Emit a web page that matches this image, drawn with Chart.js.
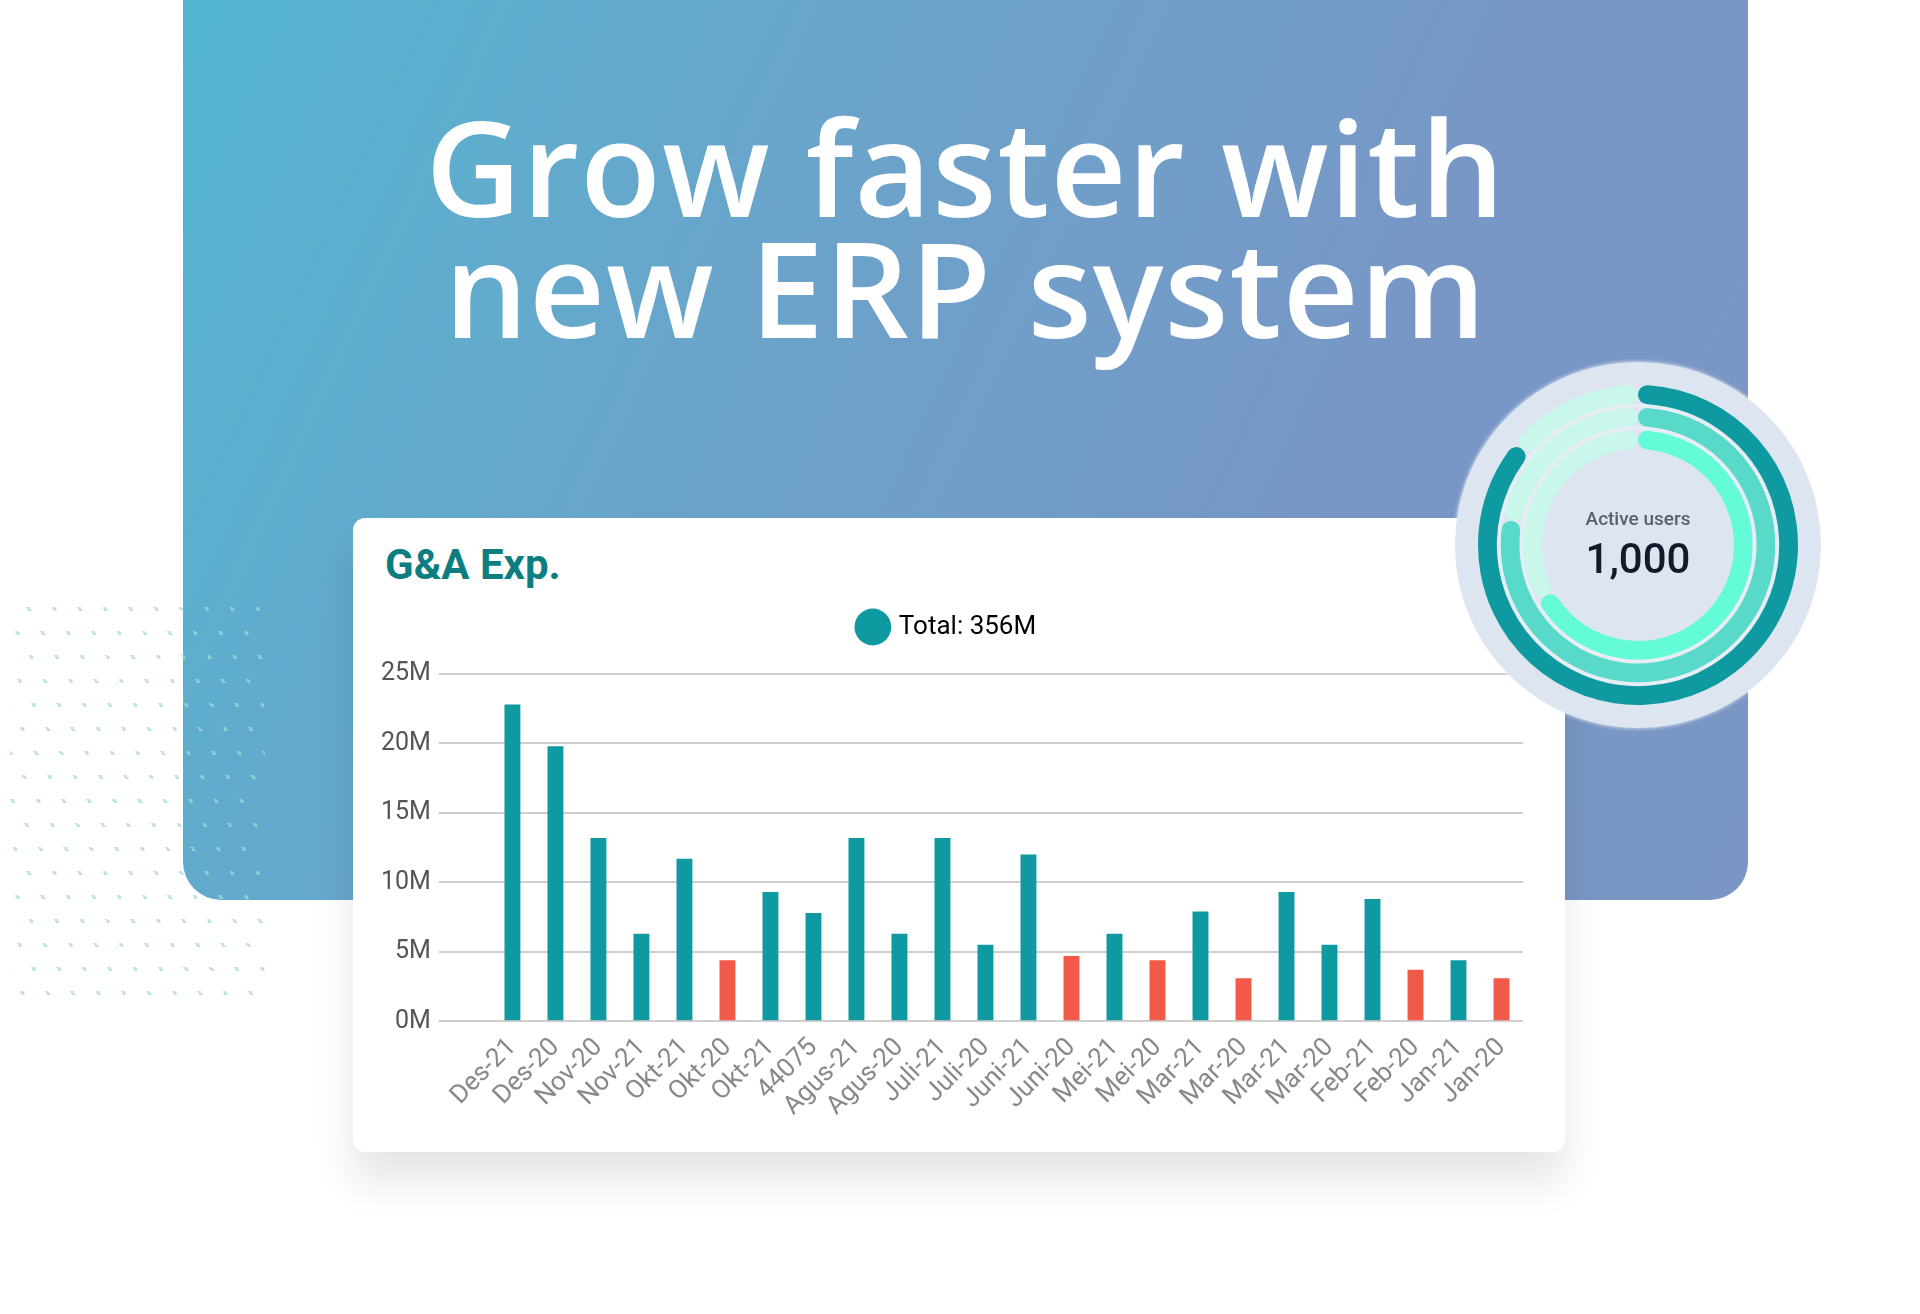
<!DOCTYPE html>
<html lang="en">
<head>
<meta charset="UTF-8">
<title>Grow faster with new ERP system</title>
<script src="https://cdn.jsdelivr.net/npm/chart.js"></script>
<style>
  body { margin: 0; width: 1920px; height: 1314px; background: #fff; position: relative; overflow: hidden; font-family: Roboto, sans-serif; }
  .panel { position: absolute; left: 183px; top: 0; width: 1565px; height: 900px; border-radius: 0 0 38px 38px;
           background: linear-gradient(115deg, #53b6d0 0%, #6aa4cb 35%, #7897c6 70%, #7b96c4 100%); }
  .headline { position: absolute; left: 183px; width: 1565px; top: 106px; text-align: center; color: #fff;
              font-family: "Open Sans", sans-serif; font-weight: 600; font-size: 132px; line-height: 121px; letter-spacing: 1px; }
  .dots { position: absolute; left: 10px; top: 600px; width: 255px; height: 395px; opacity: .7;
          background-image: repeating-linear-gradient(60deg, transparent 0 10px, #a6dbd3 10px 13px, transparent 13px 22px);
          -webkit-mask-image: repeating-linear-gradient(0deg, #000 0 4px, transparent 4px 24px); }
  .card { position: absolute; left: 353px; top: 518px; width: 1212px; height: 634px; background: #fff; border-radius: 12px;
          box-shadow: 0 30px 40px rgba(0,0,0,0.10); }
  .card h2 { position: absolute; left: 32px; top: 22px; margin: 0; font-family: Roboto, sans-serif; font-weight: 700; font-size: 42px; color: #0c7e80; }
  .chartbox { position: absolute; left: 20px; top: 72px; width: 1180px; height: 541px; }
  .widget { position: absolute; left: 1455px; top: 362px; width: 366px; height: 366px; border-radius: 50%; background: #dde5f0;
            box-shadow: 0 0 4px rgba(255,255,255,.9); }
  .ringbox { position: absolute; left: 1478px; top: 385px; width: 320px; height: 320px; }
  .center { position: absolute; left: 1538px; top: 445px; width: 200px; height: 200px; text-align: center; }
  .center .l { margin-top: 62px; font-size: 19px; color: #5a5f6a; font-weight: 500; }
  .center .v { font-size: 42px; color: #141a2b; font-weight: 500; margin-top: 4px; }
</style>
</head>
<body>
<div class="panel"></div>
<div class="dots"></div>
<div class="headline">Grow faster with<br>new ERP system</div>
<div class="card">
  <h2>G&amp;A Exp.</h2>
  <div class="chartbox"><canvas id="barChart"></canvas></div>
</div>
<div class="widget"></div>
<div class="ringbox"><canvas id="ringChart"></canvas></div>
<div class="center"><div class="l">Active users</div><div class="v">1,000</div></div>
<script>
  const months = ['Des-21','Des-20','Nov-20','Nov-21','Okt-21','Okt-20','Okt-21','44075','Agus-21','Agus-20','Juli-21','Juli-20',
                  'Juni-21','Juni-20','Mei-21','Mei-20','Mar-21','Mar-20','Mar-21','Mar-20','Feb-21','Feb-20','Jan-21','Jan-20'];
  const expenses = [22.8, 19.8, 13.2, 6.3, 11.7, 4.4, 9.3, 7.8, 13.2, 6.3, 13.2, 5.5,
                    12.0, 4.7, 6.3, 4.4, 7.9, 3.1, 9.3, 5.5, 8.8, 3.7, 4.4, 3.1];
  const flagged = [5, 13, 15, 17, 21, 23];
  const totalLabel = 'Total: 356M';
  const yTicks = [0, 5, 10, 15, 20, 25];

  // active users rings: [filled %, rest]
  const outerRing = [86, 14];
  const middleRing = [78, 22];
  const innerRing = [67, 33];

  const teal = '#0e9aa0', red = '#f15a48';

  // more room under the legend
  const legendGap = {
    id: 'legendGap',
    beforeInit(chart) {
      const fit = chart.legend.fit;
      chart.legend.fit = function () { fit.bind(chart.legend)(); this.height += 24; };
    }
  };

  new Chart(document.getElementById('barChart'), {
    type: 'bar',
    data: {
      labels: months,
      datasets: [{
        label: totalLabel,
        data: expenses.map(v => v * 1e6),
        backgroundColor: expenses.map((v, i) => flagged.includes(i) ? red : teal),
        barPercentage: 0.37,
        categoryPercentage: 1
      }]
    },
    options: {
      responsive: true, maintainAspectRatio: false, animation: false,
      layout: { padding: { left: 0, right: 30, bottom: 6 } },
      plugins: {
        tooltip: { enabled: false },
        legend: {
          labels: {
            usePointStyle: true, pointStyle: 'circle', boxWidth: 32, boxHeight: 32, padding: 24,
            color: '#555', font: { family: 'Roboto', size: 26 },
            generateLabels: () => [{ text: totalLabel, fillStyle: teal, strokeStyle: teal, pointStyle: 'circle', lineWidth: 0 }]
          }
        }
      },
      scales: {
        x: {
          grid: { display: false }, border: { display: false },
          ticks: { color: '#888', font: { family: 'Roboto', size: 26 }, maxRotation: 45, minRotation: 45, autoSkip: false }
        },
        y: {
          min: 0, max: 25e6,
          afterBuildTicks: s => { s.ticks = yTicks.map(v => ({ value: v * 1e6 })); },
          grid: { color: '#cfcfcf', lineWidth: 2, drawTicks: true, tickLength: 52, tickColor: '#cfcfcf' }, border: { display: false },
          ticks: { color: '#555', font: { family: 'Roboto', size: 25 }, padding: 8, callback: v => (v / 1e6) + 'M' }
        }
      }
    },
    plugins: [legendGap]
  });

  const track = '#c9f7ec';
  new Chart(document.getElementById('ringChart'), {
    type: 'doughnut',
    data: {
      datasets: [
        { data: outerRing, backgroundColor: [teal, track], borderWidth: 0, borderRadius: 20, weight: 1 },
        { data: [100], backgroundColor: ['#e6edf4'], borderWidth: 0, weight: 0.2 },
        { data: middleRing, backgroundColor: ['#58d9c9', track], borderWidth: 0, borderRadius: 20, weight: 1 },
        { data: [100], backgroundColor: ['#e6edf4'], borderWidth: 0, weight: 0.2 },
        { data: innerRing, backgroundColor: ['#64fbd8', track], borderWidth: 0, borderRadius: 20, weight: 1 }
      ]
    },
    options: {
      responsive: true, maintainAspectRatio: true, animation: false, cutout: '60%',
      plugins: { legend: { display: false }, tooltip: { enabled: false } }
    }
  });
</script>
</body>
</html>
